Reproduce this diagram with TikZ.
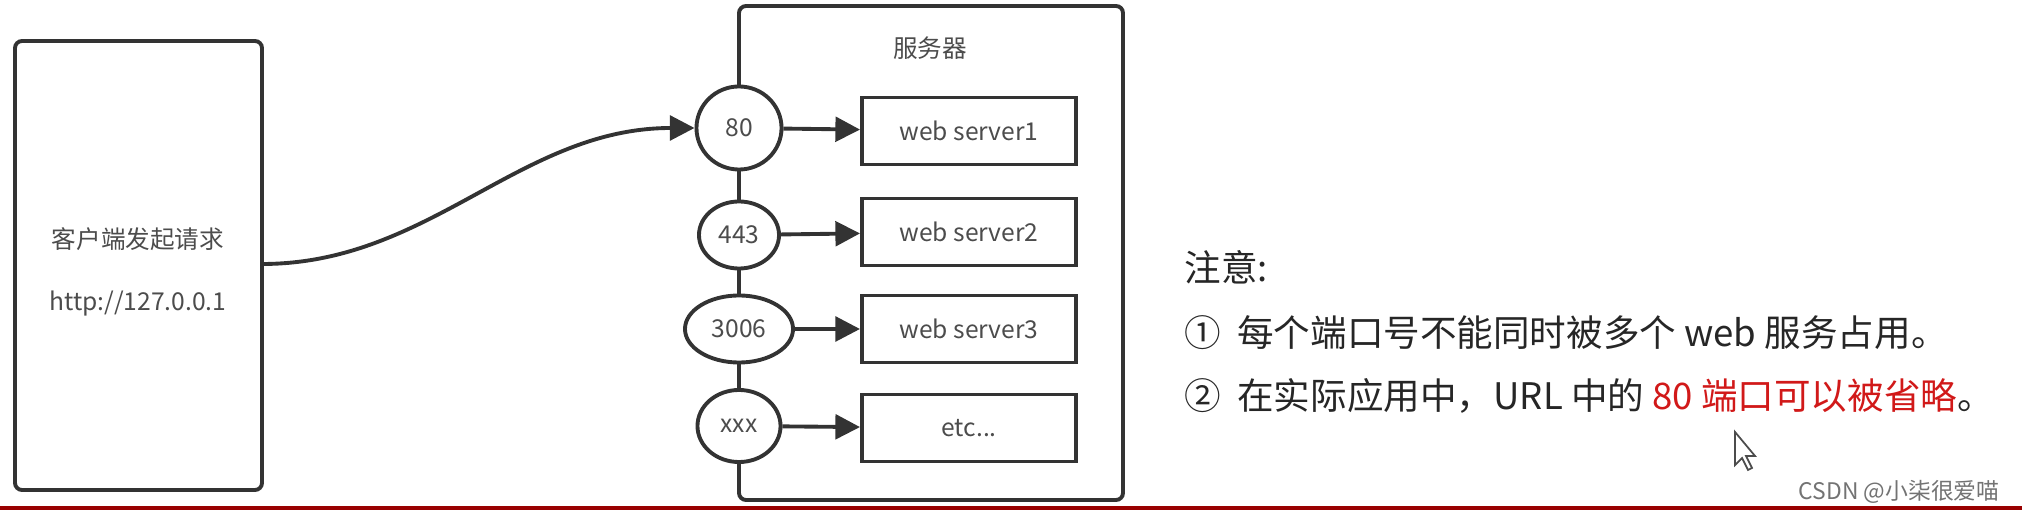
\documentclass[tikz,border=0pt]{standalone}
\usepackage{fontspec}
\setmainfont{Noto Sans CJK SC}
\usetikzlibrary{arrows.meta,shapes.geometric}
\begin{document}
\begin{tikzpicture}[x=0.01cm,y=-0.01cm,
  box/.style={draw=black!80,line width=1.1pt,rounded corners=2pt},
  port/.style={draw=black!80,fill=white,line width=1.1pt,ellipse,inner sep=0pt,text=black!70,font=\fontsize{7}{8}\selectfont},
  srv/.style={draw=black!80,line width=1.1pt,minimum width=2.14cm,minimum height=0.67cm,text=black!70,font=\fontsize{7}{8}\selectfont},
  arr/.style={line width=1.1pt,draw=black!80,-{Triangle[length=7pt,width=7pt]}},
  lbl/.style={text=black!70,font=\fontsize{7}{8}\selectfont},
  note/.style={anchor=west,font=\fontsize{10.4}{12}\selectfont,text=black!85}]
\useasboundingbox (0,0) rectangle (2022,510);
\draw[box] (15,41) rectangle (262,490);
\draw[box] (739,6) rectangle (1123,500);
\node[lbl] (t) at (930,48) {服务器};
\node[lbl] (c1) at (138,239) {客户端发起请求};
\node[lbl] (c2) at (138,304) {http://127.0.0.1};
\coordinate (cl) at (262,264);
\node[port,minimum width=0.85cm,minimum height=0.83cm] (p1) at (739,128) {80};
\node[port,minimum width=0.80cm,minimum height=0.67cm] (p2) at (739,235) {443};
\node[port,minimum width=1.08cm,minimum height=0.67cm] (p3) at (739,329) {3006};
\node[port,minimum width=0.83cm,minimum height=0.72cm] (p4) at (739,426) {xxx};
\node[srv] (s1) at (969,131) {web server1};
\node[srv] (s2) at (969,232) {web server2};
\node[srv] (s3) at (969,329) {web server3};
\node[srv] (s4) at (969,428) {etc...};
\foreach \i in {1,...,4} \draw[arr] (p\i) -- (s\i);
\draw[arr] (cl) .. controls (430,264) and (520,128) .. (p1);
\node[note] (n0) at (1172,267) {注意:};
\node[note] (n1) at (1172,333) {①\ \ 每个端口号不能同时被多个 web 服务占用。};
\node[note] (n2) at (1172,396) {②\ \ 在实际应用中，URL 中的 \textcolor{red!80!black!90}{80 端口可以被省略}。};
\draw[black!70,line width=0.5pt,fill=white] (1735,432) -- (1735,465) -- (1742,458) -- (1748,470) -- (1752,468) -- (1746,456) -- (1755,456) -- cycle;
\node[anchor=east,text=black!55,font=\fontsize{6.5}{7}\selectfont] (w) at (2012,492) {CSDN @小柒很爱喵};
\fill[red!60!black] (0,506) rectangle (2022,510);
\end{tikzpicture}
\end{document}
